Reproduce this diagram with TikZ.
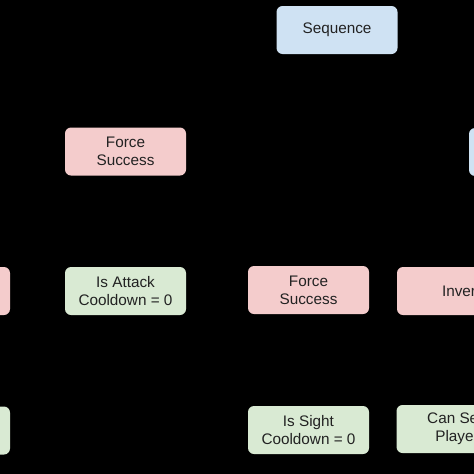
\documentclass[tikz,border=0pt]{standalone}
\usepackage{fontspec}
\setmainfont{Liberation Sans}
\definecolor{bluefill}{HTML}{CFE2F3}
\definecolor{pinkfill}{HTML}{F4CCCC}
\definecolor{greenfill}{HTML}{D9EAD3}
\definecolor{txt}{HTML}{222222}
\begin{document}
\begin{tikzpicture}[x=1pt,y=-1pt,
  box/.style={rectangle, rounded corners=6pt, minimum width=121pt, minimum height=48pt,
    inner sep=0pt, align=center, text=txt, font=\fontsize{15.3}{18}\selectfont},
  bluebox/.style={box, fill=bluefill},
  pinkbox/.style={box, fill=pinkfill},
  greenbox/.style={box, fill=greenfill}]
\fill[black] (0,0) rectangle (474,474);
\useasboundingbox (0,0) rectangle (474,474);
\clip (0,0) rectangle (474,474);
\node[bluebox] (seq) at (337,30) {Sequence};
\node[pinkbox] (fs1) at (125.5,151.5) {Force\\Success};
\node[bluebox] (rb) at (529.5,152) {};
\node[pinkbox] (lp) at (-50.5,291) {};
\node[greenbox] (atk) at (125.5,291) {Is Attack\\Cooldown = 0};
\node[pinkbox] (fs2) at (308.5,290) {Force\\Success};
\node[pinkbox, minimum width=142pt] (inv) at (468,291) {Inverter};
\node[greenbox] (lg) at (-50.5,430.5) {};
\node[greenbox] (sight) at (308.5,430) {Is Sight\\Cooldown = 0};
\node[greenbox] (see) at (457,429) {Can See\\Player};
\end{tikzpicture}
\end{document}
